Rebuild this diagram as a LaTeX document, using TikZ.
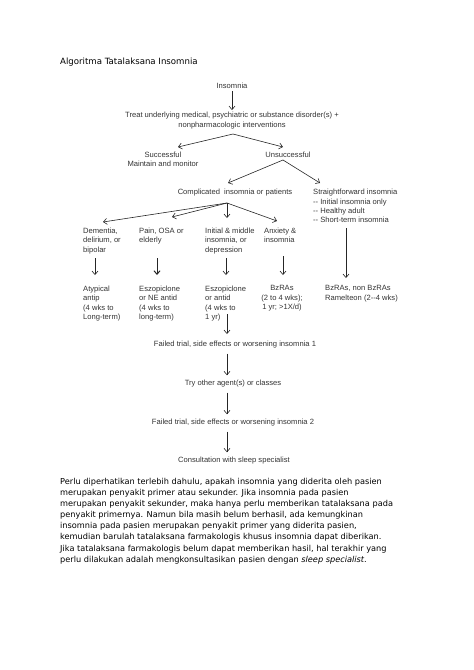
\documentclass[tikz,border=0pt]{standalone}
\usepackage{fontspec}
\setmainfont{DejaVu Sans}
\newfontfamily\fcfont{Liberation Sans}
\usetikzlibrary{arrows.meta}
\tikzset{
  fc/.style={font=\fcfont\fontsize{7.6}{9.4}\selectfont, text=black!80, inner sep=1pt},
  fcl/.style={fc, align=left, anchor=north west},
  arr/.style={draw=black!85, line width=0.6pt, -{Straight Barb[length=3.5pt,width=6pt]}},
  varr/.style={arr, shorten <=4pt, shorten >=4pt},
  body/.style={font=\fontsize{8.2}{11.1}\selectfont, align=left, anchor=north west, inner sep=0pt}
}
\begin{document}
\begin{tikzpicture}[x=1pt,y=-1pt]
\useasboundingbox (0,0) rectangle (474,670);
\node[body, anchor=west, font=\fontsize{8.6}{11}\selectfont] (title) at (60,62) {Algoritma Tatalaksana Insomnia};
% flowchart nodes
\node[fc] (ins) at (232,86) {Insomnia};
\node[fc, align=center] (treat) at (232,120.5) {Treat underlying medical, psychiatric or substance disorder(s) +\\nonpharmacologic interventions};
\node[fc, align=center] (succ) at (163,159) {Successful\\Maintain and monitor};
\node[fc] (unsucc) at (288,155) {Unsuccessful};
\node[fc] (comp) at (235,193) {Complicated \ insomnia or patients};
\node[fcl] (straight) at (312,188) {Straightforward insomnia\\-- Initial insomnia only\\-- Healthy adult\\-- Short-term insomnia};
\node[fcl] (dem) at (82,226.5) {Dementia,\\delirium, or\\bipolar};
\node[fcl] (pain) at (138,226.5) {Pain, OSA or\\elderly};
\node[fcl] (init) at (204,226.5) {Initial \& middle\\insomnia, or\\depression};
\node[fcl] (anx) at (263,226.5) {Anxiety \&\\insomnia};
\node[fcl] (aty) at (82,284.5) {Atypical\\antip\\(4 wks to\\Long-term)};
\node[fcl] (esz1) at (138,284.5) {Eszopiclone\\or NE antid\\(4 wks to\\long-term)};
\node[fcl] (esz2) at (204,284.5) {Eszopiclone\\or antid\\(4 wks to\\1 yr)};
\node[fc, align=center, anchor=north] (bzr) at (282,284.5) {BzRAs\\(2 to 4 wks);\\1 yr; >1X/d)};
\node[fcl] (bzn) at (324,284.5) {BzRAs, non BzRAs\\Ramelteon (2--4 wks)};
\node[fc] (fail1) at (235,345) {Failed trial, side effects or worsening insomnia 1};
\node[fc] (try) at (233,384) {Try other agent(s) or classes};
\node[fc] (fail2) at (233,423) {Failed trial, side effects or worsening insomnia 2};
\node[fc] (cons) at (234,461) {Consultation with sleep specialist};
% connector points
\coordinate (t1) at (233,134);
\coordinate (s1) at (178,147);
\coordinate (u1) at (283,147);
\coordinate (u0) at (283,160);
\coordinate (c1) at (228,183);
\coordinate (f1) at (320,183);
\coordinate (c0) at (227,203);
\coordinate (d1) at (103,222);
\coordinate (p1) at (172,217);
\coordinate (i1) at (227,218);
\coordinate (a1) at (277,221);
\coordinate (d2) at (95,258);  \coordinate (d3) at (95,275);
\coordinate (p2) at (157,258); \coordinate (p3) at (157,275);
\coordinate (i2) at (226,258); \coordinate (i3) at (226,275);
\coordinate (a2) at (283,256); \coordinate (a3) at (283,275);
\coordinate (g2) at (346,228); \coordinate (g3) at (346,278);
\coordinate (e2) at (227,314); \coordinate (e3) at (227,334);
% connectors
\draw[arr, shorten <=1pt, shorten >=1pt] (ins) -- (treat);
\draw[arr] (t1) -- (s1);
\draw[arr] (t1) -- (u1);
\draw[arr] (u0) -- (c1);
\draw[arr] (u0) -- (f1);
\draw[arr] (c0) -- (d1);
\draw[arr] (c0) -- (p1);
\draw[arr] (c0) -- (i1);
\draw[arr] (c0) -- (a1);
\draw[arr] (d2) -- (d3);
\draw[arr, line width=1pt] (p2) -- (p3);
\draw[arr] (i2) -- (i3);
\draw[arr] (a2) -- (a3);
\draw[arr] (g2) -- (g3);
\draw[arr] (e2) -- (e3);
\draw[varr] (fail1.south -| e3) -- (try.north -| e3);
\draw[varr] (try.south -| e3) -- (fail2.north -| e3);
\draw[varr] (fail2.south -| e3) -- (cons.north -| e3);
% body text
\node[body] (txt) at (60,478) {Perlu diperhatikan terlebih dahulu, apakah insomnia yang diderita oleh pasien\\
merupakan penyakit primer atau sekunder. Jika insomnia pada pasien\\
merupakan penyakit sekunder, maka hanya perlu memberikan tatalaksana pada\\
penyakit primernya. Namun bila masih belum berhasil, ada kemungkinan\\
insomnia pada pasien merupakan penyakit primer yang diderita pasien,\\
kemudian barulah tatalaksana farmakologis khusus insomnia dapat diberikan.\\
Jika tatalaksana farmakologis belum dapat memberikan hasil, hal terakhir yang\\
perlu dilakukan adalah mengkonsultasikan pasien dengan \textit{sleep specialist}.};
\end{tikzpicture}
\end{document}
